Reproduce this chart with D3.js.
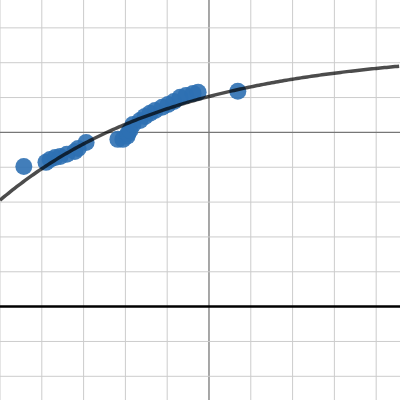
<!DOCTYPE html>
<html><head><meta charset="utf-8">
<script src="https://cdn.jsdelivr.net/npm/d3@7"></script>
<style>body{margin:0;background:#fff}</style>
</head><body>
<div id="chart"></div>
<script>
// scatter points
const xs = [-4.43,-3.90,-3.80,-3.68,-3.56,-3.40,-3.21,-3.13,-2.94,-2.18,-2.06,-1.96,-1.94,-1.89,-1.82,-1.65,-1.53,-1.41,-1.29,-1.12,-0.98,-0.84,-0.69,-0.55,-0.38,-0.26,0.69];
const ys = [-0.98,-0.86,-0.78,-0.72,-0.69,-0.63,-0.55,-0.46,-0.29,-0.20,-0.20,-0.11,-0.03,0.06,0.23,0.34,0.46,0.55,0.63,0.72,0.80,0.89,1.01,1.06,1.12,1.15,1.18];
// fitted curve y = a - b*exp(-k x), and the horizontal line
const fit = {a: 2.35, b: 1.32, k: 0.236};
const hLine = -5;

const width = 400, height = 400;
const x = d3.scaleLinear().domain([-5, 4.57]).range([0, width]);
const y = d3.scaleLinear().domain([-7.68, 3.8]).range([height, 0]);

const svg = d3.select("#chart").append("svg")
  .attr("width", width).attr("height", height);

// grid
svg.append("g").selectAll("line").data(d3.range(-5, 5)).enter().append("line")
  .attr("x1", d => x(d)).attr("x2", d => x(d)).attr("y1", 0).attr("y2", height)
  .attr("stroke", d => d === 0 ? "#777" : "#ccc").attr("stroke-width", d => d === 0 ? 1.3 : 1);
svg.append("g").selectAll("line").data(d3.range(-7, 4)).enter().append("line")
  .attr("y1", d => y(d)).attr("y2", d => y(d)).attr("x1", 0).attr("x2", width)
  .attr("stroke", d => d === 0 ? "#777" : "#ccc").attr("stroke-width", d => d === 0 ? 1.3 : 1);

svg.append("line")
  .attr("x1", 0).attr("x2", width).attr("y1", y(hLine)).attr("y2", y(hLine))
  .attr("stroke", "#000").attr("stroke-width", 2.5);

// points
svg.append("g").selectAll("circle").data(xs).enter().append("circle")
  .attr("cx", d => x(d)).attr("cy", (d, i) => y(ys[i])).attr("r", 8.5)
  .attr("fill", "#2d70b3").attr("fill-opacity", 0.9);

// curve
const line = d3.line().x(d => x(d)).y(d => y(fit.a - fit.b * Math.exp(-fit.k * d)));
svg.append("path").datum(d3.range(-5, 4.6, 0.05))
  .attr("d", line).attr("fill", "none")
  .attr("stroke", "#000").attr("stroke-opacity", 0.7).attr("stroke-width", 3.5);
</script>
</body></html>
